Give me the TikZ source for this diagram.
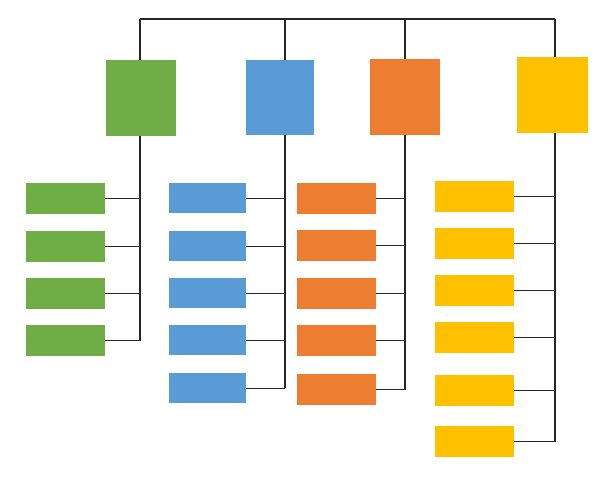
\documentclass[tikz,border=0pt]{standalone}
\begin{document}
\begin{tikzpicture}[x=1pt,y=-1pt,
  bx/.style={draw=none,inner sep=0,anchor=north west},
  ln/.style={draw=black!85,line width=1.3pt}]
\definecolor{cg}{HTML}{70AD47}\definecolor{cb}{HTML}{5B9BD5}
\definecolor{co}{HTML}{ED7D31}\definecolor{cy}{HTML}{FFC000}
\fill[white] (0,0) rectangle (602,480);
\useasboundingbox (0,0) rectangle (602,480);
% big boxes
\node[bx,fill=cg,minimum width=70pt,minimum height=76pt] (G) at (106,60) {};
\node[bx,fill=cb,minimum width=68pt,minimum height=75pt] (B) at (246,60) {};
\node[bx,fill=co,minimum width=70pt,minimum height=76pt] (O) at (370,59) {};
\node[bx,fill=cy,minimum width=71pt,minimum height=76pt] (Y) at (517,57) {};
\coordinate (t1) at (140,19);\coordinate (t2) at (285,19);
\coordinate (t3) at (405,19);\coordinate (t4) at (555,19);
\draw[ln] (t1)--(t4);
\draw[ln] (t1)--(t1|-G.north);\draw[ln] (t2)--(t2|-B.north);
\draw[ln] (t3)--(t3|-O.north);\draw[ln] (t4)--(t4|-Y.north);
% small boxes
\foreach \i/\y in {1/183,2/231,3/278,4/325}
  \node[bx,fill=cg,minimum width=79pt,minimum height=31pt] (g\i) at (26,\y) {};
\foreach \i/\y in {1/183,2/231,3/278,4/325,5/373}
  \node[bx,fill=cb,minimum width=77pt,minimum height=30pt] (b\i) at (169,\y) {};
\foreach \i/\y in {1/183,2/230,3/278,4/325,5/374}
  \node[bx,fill=co,minimum width=79pt,minimum height=31pt] (o\i) at (297,\y) {};
\foreach \i/\y in {1/181,2/228,3/275,4/322,5/375,6/426}
  \node[bx,fill=cy,minimum width=79pt,minimum height=31pt] (y\i) at (435,\y) {};
% spines
\draw[ln] (t1|-G.south)--(t1|-g4.east);
\draw[ln] (t2|-B.south)--(t2|-b5.east);
\draw[ln] (t3|-O.south)--(t3|-o5.east);
\draw[ln] (t4|-Y.south)--(t4|-y6.east);
\foreach \i in {1,...,4} \draw[ln] (g\i.east)--(t1|-g\i.east);
\foreach \i in {1,...,5} \draw[ln] (b\i.east)--(t2|-b\i.east);
\foreach \i in {1,...,5} \draw[ln] (o\i.east)--(t3|-o\i.east);
\foreach \i in {1,...,6} \draw[ln] (y\i.east)--(t4|-y\i.east);
\end{tikzpicture}
\end{document}
